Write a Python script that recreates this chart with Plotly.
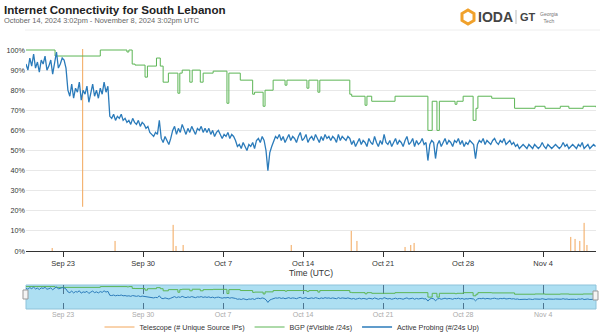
import pandas as pd
import plotly.graph_objects as go

# ---- data --------------------------------------------------------------
x_range = ["2024-09-19 18:00", "2024-11-08 15:00"]

# Active Probing (#/24s Up), % of max, one value every 4 hours from the start
probe_start = "2024-09-19 18:00"
probe_vals = [
    93, 90, 96, 92, 98, 91, 94, 89, 95, 93,
    97, 90, 92, 95, 88, 94, 99, 91, 93, 96,
    95, 91,
    80, 77, 83, 76, 81, 79, 84, 75,
    80, 78, 82, 74, 79, 83, 77, 80, 76, 81,
    78, 84, 79, 82,
    67, 66, 68, 65, 67, 66, 68, 65, 66, 64,
    65, 63, 66, 64, 63, 65, 62, 64,
    63, 61, 62, 59, 58,
    57, 59, 58, 65,
    56, 54, 57, 55, 53, 56,
    60, 62, 58, 61, 59, 63, 60, 58, 61, 59,
    62, 60, 58, 61, 60, 62, 59, 61,
    59, 61, 58, 60, 57, 59, 60, 58, 56, 58,
    57, 59, 56, 58, 57, 55,
    52, 53, 51, 54, 52, 50, 53, 52, 54, 51,
    55, 56, 54, 57, 55,
    50, 40, 49, 52,
    55, 57, 56, 58, 55, 57, 54, 56, 58, 55,
    57, 56, 54, 57, 59, 55, 56, 58, 54, 56,
    57, 55, 58, 56, 54, 57, 55, 58, 56, 57,
    55, 57, 56, 54, 58, 55, 57, 56, 55, 57, 56,
    53, 55, 52, 54, 56, 53, 55, 54, 52, 56,
    54, 53, 57, 54, 52, 55, 53, 58, 54, 53,
    55, 52, 54, 56, 53, 55, 54, 52, 55, 57,
    53, 54, 56, 52, 55, 53, 54, 56, 53, 54,
    45, 53, 55, 54, 46,
    53, 55, 52, 54, 56, 53, 55, 54, 52, 55,
    54, 56, 53, 55, 52, 54, 53, 55, 54, 53,
    46, 53,
    55, 54, 56, 53, 55, 54, 53, 55, 56, 54,
    53, 55, 54, 56, 53, 54, 55, 53, 54,
    52, 53, 51, 52, 53, 52, 51, 53, 52, 51,
    53, 52, 51, 52, 54, 52, 51, 53, 52, 51,
    52, 53, 52, 51, 52, 54, 52, 53, 51, 52,
    53, 52, 51, 53, 52, 54, 51, 52, 53, 51, 52, 53, 52,
]

# BGP (#Visible /24s), step series
bgp_times = [
    "2024-09-19 18:00", "2024-09-22 07:00", "2024-09-26 06:00", "2024-09-28 14:00",
    "2024-09-28 18:00", "2024-09-29 01:00", "2024-09-29 07:00", "2024-09-30 04:00",
    "2024-09-30 09:00", "2024-10-01 04:00", "2024-10-01 12:00", "2024-10-01 18:00",
    "2024-10-02 05:00", "2024-10-03 01:00", "2024-10-03 05:00", "2024-10-03 10:00",
    "2024-10-04 02:00", "2024-10-04 07:00", "2024-10-05 00:00", "2024-10-05 06:00",
    "2024-10-06 03:00", "2024-10-07 08:00", "2024-10-07 12:00", "2024-10-08 12:00",
    "2024-10-09 14:00", "2024-10-09 18:00", "2024-10-10 12:00", "2024-10-10 16:00",
    "2024-10-11 09:00", "2024-10-12 10:00", "2024-10-12 14:00", "2024-10-14 08:00",
    "2024-10-14 12:00", "2024-10-15 07:00", "2024-10-15 11:00", "2024-10-18 02:00",
    "2024-10-18 06:00", "2024-10-19 10:00", "2024-10-19 14:00", "2024-10-20 00:00",
    "2024-10-22 01:00", "2024-10-24 22:00", "2024-10-25 07:00", "2024-10-25 17:00",
    "2024-10-25 22:00", "2024-10-27 07:00", "2024-10-27 11:00", "2024-10-28 00:00",
    "2024-10-28 21:00", "2024-10-29 03:00", "2024-10-29 07:00", "2024-10-30 12:00",
    "2024-11-01 12:00", "2024-11-03 07:00", "2024-11-04 04:00", "2024-11-05 12:00",
    "2024-11-06 06:00", "2024-11-07 12:00", "2024-11-08 15:00",
]
bgp_vals = [
    100, 97, 100, 99,
    100, 93, 92.5, 86.5,
    92, 96, 92, 84,
    88.5, 78.5, 88.5, 90,
    84, 90, 84, 88.5,
    89.5, 73.5, 88.5, 85,
    78, 79, 72, 80,
    85, 82.5, 85, 81,
    85, 79, 85, 78,
    77, 72.5, 77, 74.5,
    77, 60, 74.5, 60,
    74.5, 73, 74.5, 77,
    65, 71, 77, 76,
    71, 72, 71, 72,
    71, 72, 71.5,
]

# Telescope (# Unique Source IPs), scaled onto the same axis: each spike
# runs from its low value up to its high value
tele_times = [
    "2024-09-22 01:00", "2024-09-24 17:00", "2024-09-27 13:00", "2024-10-02 15:00",
    "2024-10-02 21:00", "2024-10-03 12:00", "2024-10-12 23:00", "2024-10-18 05:00",
    "2024-10-18 17:00", "2024-10-22 22:00", "2024-10-23 10:00", "2024-10-23 17:00",
    "2024-11-06 10:00", "2024-11-06 19:00", "2024-11-07 05:00", "2024-11-07 14:00",
    "2024-11-07 20:00",
]
tele_low = [0, 22, 0, 0, 0, 0, 0, 0, 0, 0, 0, 0, 0, 0, 0, 0, 0]
tele_high = [1.5, 140, 5, 13, 2.5, 3, 3, 10, 5, 2, 3, 4, 7, 6, 5, 14, 3]

y_ticks = list(range(0, 101, 10))
y_labels = [f"{v}%" for v in y_ticks]

ORANGE = "#f2a65a"
GREEN = "#5cb555"
BLUE = "#2b7bba"

# ---- layout geometry ----------------------------------------------------
W, H = 600, 336
L, R, T, B = 26, 4, 49, 27


def px(x, y):
    return (x - L) / (W - L - R), (H - B - y) / (H - T - B)


probe_times = pd.date_range(probe_start, periods=len(probe_vals), freq="4h")

stem_x, stem_y = [], []
for t, lo, hi in zip(tele_times, tele_low, tele_high):
    stem_x += [t, t, None]
    stem_y += [lo, hi, None]

fig = go.Figure()
fig.add_trace(go.Scatter(x=stem_x, y=stem_y, mode="lines", connectgaps=False,
                         line=dict(color=ORANGE, width=1), name="Telescope (# Unique Source IPs)",
                         legendrank=1))
for xa, ya, show in [("x", "y", True), ("x2", "y2", False)]:
    fig.add_trace(go.Scatter(x=bgp_times, y=bgp_vals, mode="lines", line_shape="hv",
                             line=dict(color=GREEN, width=1), name="BGP (#Visible /24s)",
                             xaxis=xa, yaxis=ya, showlegend=show, legendrank=2))
    fig.add_trace(go.Scatter(x=probe_times, y=probe_vals, mode="lines",
                             line=dict(color=BLUE, width=1.3 if show else 1),
                             name="Active Probing (#/24s Up)",
                             xaxis=xa, yaxis=ya, showlegend=show, legendrank=3))

main_bottom = px(0, 251)[1]
nav_top = px(0, 285)[1]
week = 7 * 24 * 3600 * 1000

fig.update_layout(
    width=W,
    height=H,
    margin=dict(l=L, r=R, t=T, b=B, autoexpand=False),
    paper_bgcolor="white",
    plot_bgcolor="white",
    font=dict(family="Liberation Sans, Arial, sans-serif", color="#333", size=8),
    showlegend=True,
    legend=dict(orientation="h", x=px(292, 0)[0], xanchor="center", y=px(0, 327)[1], yanchor="middle",
                font=dict(size=7.2, color="#333"), itemwidth=30, bgcolor="rgba(0,0,0,0)"),
    xaxis=dict(
        range=x_range, domain=[0, 1], anchor="y", automargin=False,
        tick0="2024-09-23", dtick=week, tickformat="%b %-d",
        showgrid=False, ticks="outside", ticklen=5, tickcolor="#333",
        showline=True, linecolor="#333", linewidth=1,
        tickfont=dict(size=7.5, color="#333"),
        title=dict(text="Time (UTC)", font=dict(size=8.5, color="#333"), standoff=2),
    ),
    yaxis=dict(
        range=[0, 100.5], domain=[main_bottom, 1], anchor="x", automargin=False,
        tickvals=y_ticks, ticktext=y_labels,
        showgrid=True, gridcolor="#e8e8e8", zeroline=False, showline=False,
        tickfont=dict(size=7.2, color="#333"), ticklen=0,
    ),
    xaxis2=dict(
        range=x_range, domain=[0, 1], anchor="y2", automargin=False,
        tick0="2024-09-23", dtick=week, tickformat="%b %-d",
        showgrid=True, gridcolor="#4d7590", griddash="dash", gridwidth=1,
        ticks="", showline=False, zeroline=False,
        tickfont=dict(size=7, color="#aaa"),
    ),
    yaxis2=dict(range=[15, 106], domain=[0, nav_top], anchor="x2", visible=False,
                showgrid=False, automargin=False),
)

shapes = []
# navigator background
shapes.append(dict(type="rect", xref="x2 domain", yref="y2 domain", x0=0, x1=1, y0=0, y1=1,
                   fillcolor="#addff2", line=dict(color="#8ec3da", width=1), layer="below"))
# navigator handles
for hx0, hx1, hy0, hy1 in [(23, 28, 290, 299), (593, 598, 291, 300)]:
    ax0, ay0 = px(hx0, hy0)
    ax1, ay1 = px(hx1, hy1)
    shapes.append(dict(type="rect", xref="paper", yref="paper", x0=ax0, x1=ax1, y0=ay1, y1=ay0,
                       fillcolor="#f4f4f4", line=dict(color="#999", width=1), layer="above"))
# header separator
sx0, sy = px(25, 30)
sx1, _ = px(600, 30)
shapes.append(dict(type="line", xref="paper", yref="paper", x0=sx0, x1=sx1, y0=sy, y1=sy,
                   line=dict(color="#eeeeee", width=1)))
# IODA hexagon mark
hex_pts = [(468, 10), (474, 13.5), (474, 20.5), (468, 24), (462, 20.5), (462, 13.5)]
path = "M " + " L ".join(f"{px(a, b)[0]:.5f},{px(a, b)[1]:.5f}" for a, b in hex_pts) + " Z"
shapes.append(dict(type="path", xref="paper", yref="paper", path=path,
                   line=dict(color="#f0a12b", width=3)))
# logo separator
lx, ly0 = px(516, 10)
_, ly1 = px(516, 24)
shapes.append(dict(type="line", xref="paper", yref="paper", x0=lx, x1=lx, y0=ly0, y1=ly1,
                   line=dict(color="#bbb", width=1)))
fig.update_layout(shapes=shapes)


def note(text, x, y, size, color="#333", xanchor="left", bold=False):
    ax, ay = px(x, y)
    fig.add_annotation(text=f"<b>{text}</b>" if bold else text, x=ax, y=ay, xref="paper", yref="paper",
                       xanchor=xanchor, yanchor="middle", showarrow=False,
                       font=dict(size=size, color=color))


note("Internet Connectivity for South Lebanon", 2, 9, 11.6, "#222", bold=True)
note("October 14, 2024 3:02pm - November 8, 2024 3:02pm UTC", 2, 21, 7.4, "#666")
note("IODA", 476, 17, 14, "#444", bold=True)
note("GT", 518, 17, 11, "#444", bold=True)
note("Georgia<br>Tech", 538, 17, 5, "#777")

# the page's default body margin would shift the figure by 8px
fig.write_html("out.html", config={"displayModeBar": False},
               post_script="document.body.style.margin='0';")
